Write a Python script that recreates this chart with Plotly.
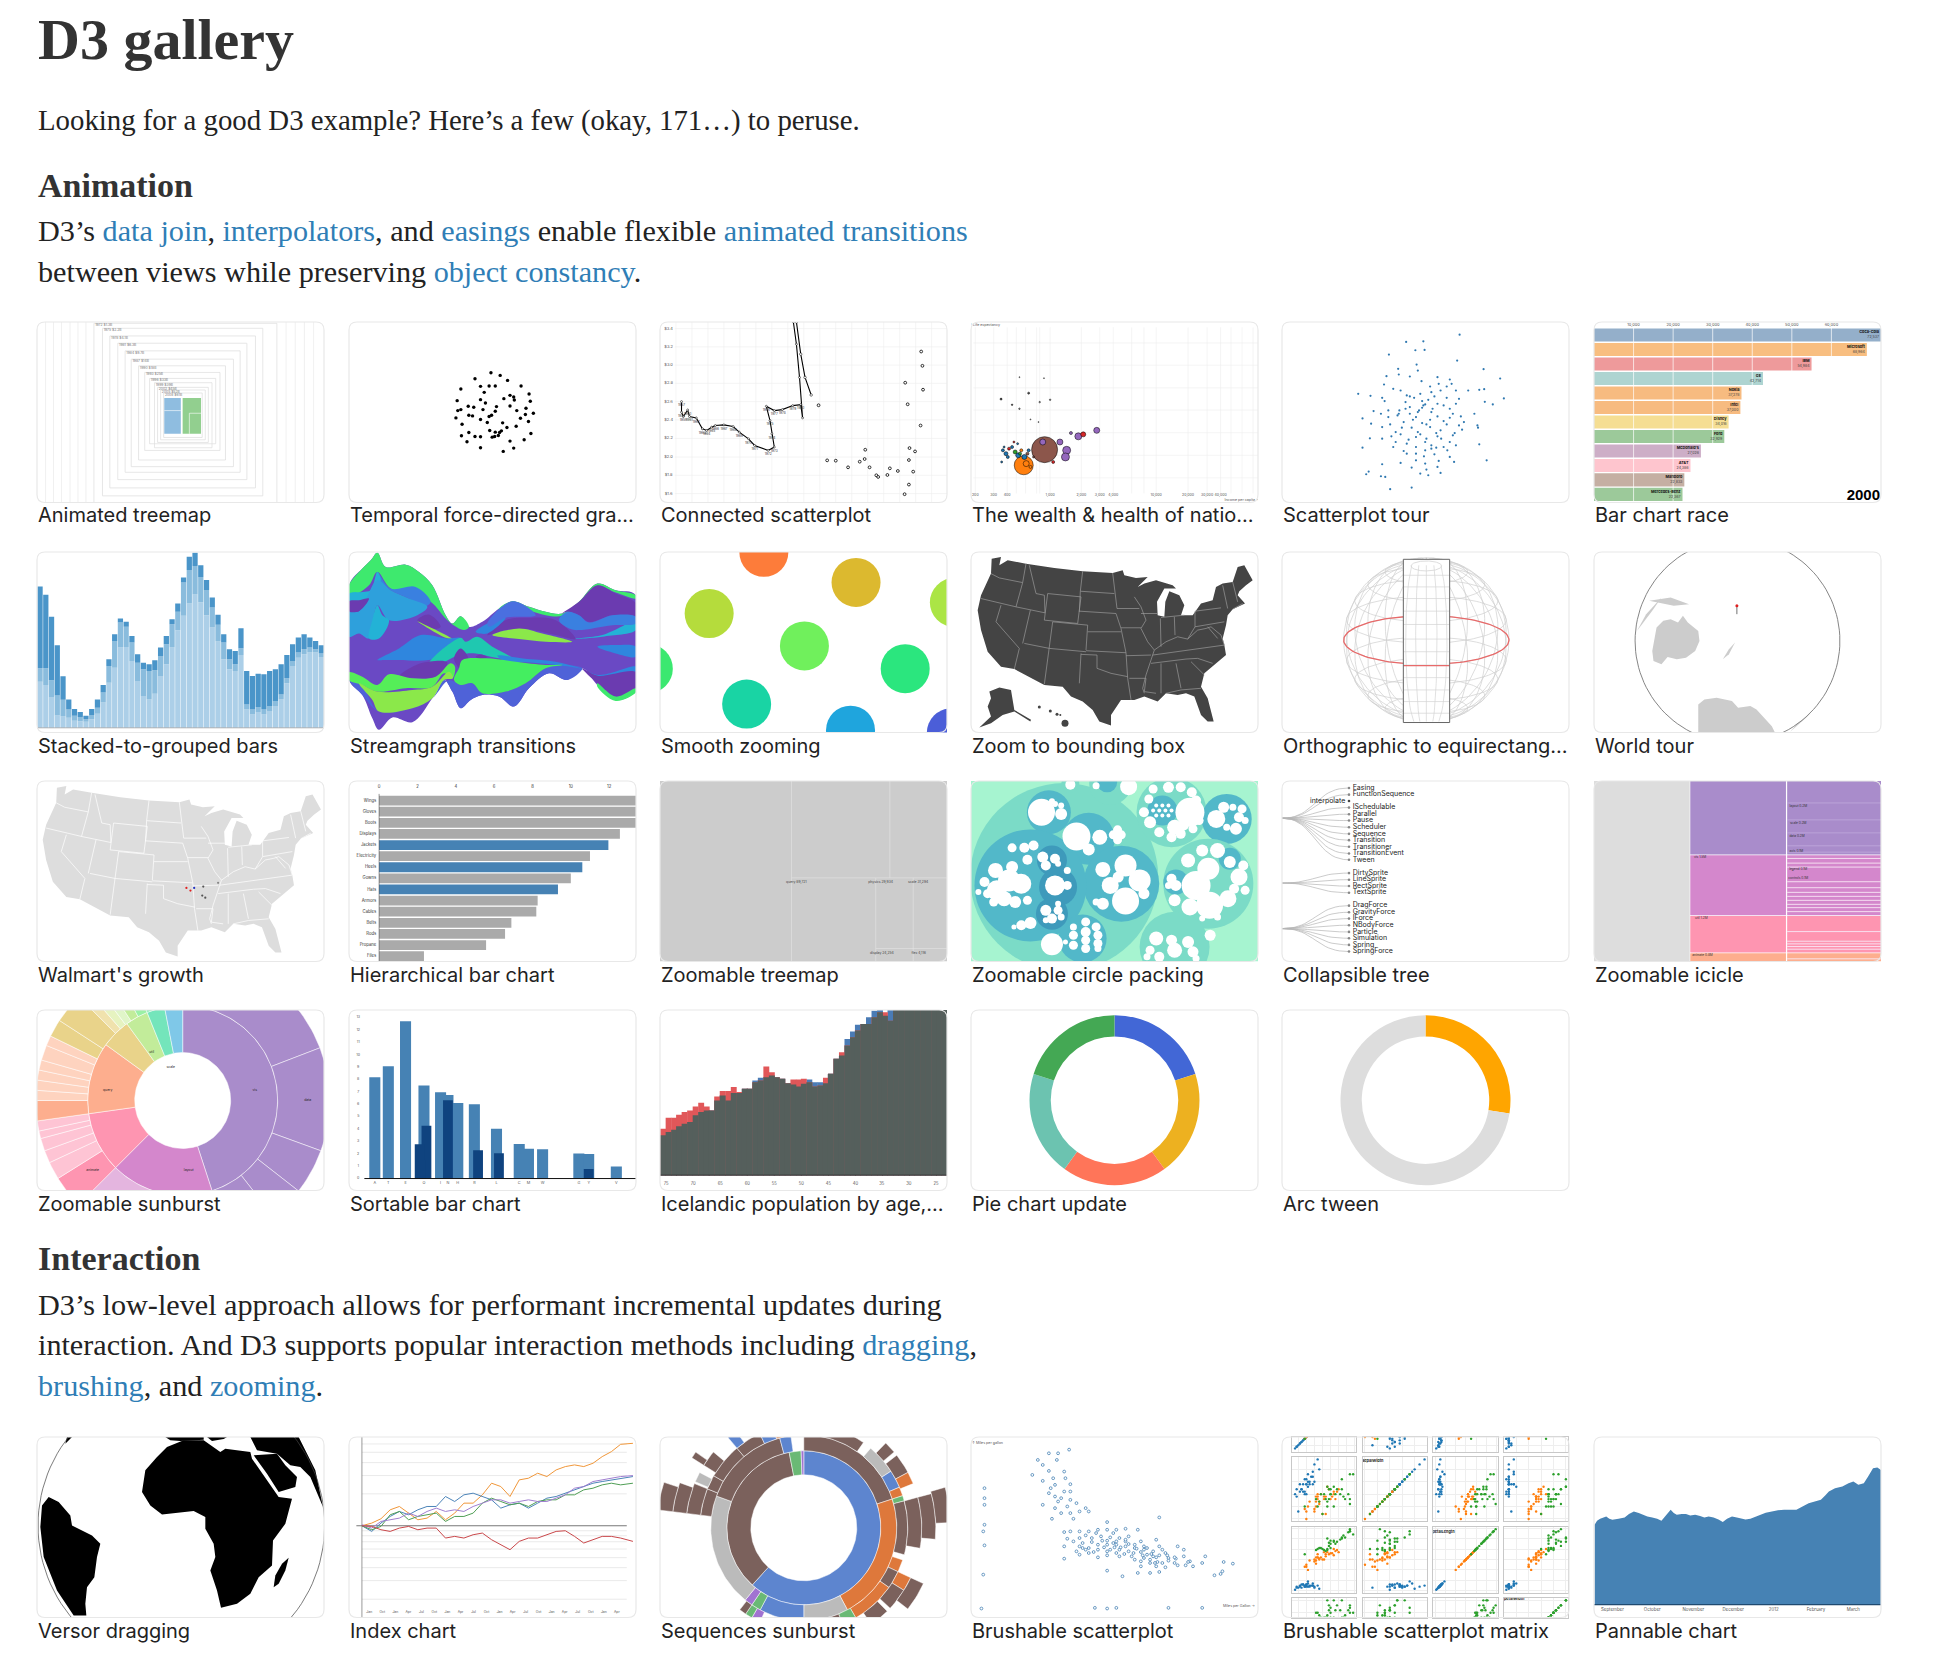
"""D3 gallery page rebuilt as one big Plotly figure: every thumbnail gets its own axes."""

import numpy as np
import plotly.graph_objects as go

W, H = 1940, 1660
SERIF = "Liberation Serif"
SANS = "Inter"
LINK = "#2f7eb6"

# CARD GRID (page pixels)
CARD_X = [37, 349, 660, 971, 1282, 1594]
CARD_Y = [322, 552, 781, 1010, 1437]
CARD_W, CARD_H = 287, 180.5

LABELS = [
    ["Animated treemap", "Temporal force-directed gra…", "Connected scatterplot", "The wealth & health of natio…", "Scatterplot tour", "Bar chart race"],
    ["Stacked-to-grouped bars", "Streamgraph transitions", "Smooth zooming", "Zoom to bounding box", "Orthographic to equirectang…", "World tour"],
    ["Walmart's growth", "Hierarchical bar chart", "Zoomable treemap", "Zoomable circle packing", "Collapsible tree", "Zoomable icicle"],
    ["Zoomable sunburst", "Sortable bar chart", "Icelandic population by age,…", "Pie chart update", "Arc tween", None],
    ["Versor dragging", "Index chart", "Sequences sunburst", "Brushable scatterplot", "Brushable scatterplot matrix", "Pannable chart"],
]

# ANIMATED TREEMAP
NEST_X0 = [121, 135, 147, 160, 172, 182, 194, 204, 212, 220, 225, 230, 235]
NEST_X1 = [420, 397, 385, 371, 360, 349, 336, 327, 320, 314, 308, 303, 298]
NEST_Y0 = [37, 52, 75, 97, 120, 145, 165, 185, 203, 216, 230, 238, 247]
NEST_Y1 = [577, 557, 533, 508, 486, 469, 449, 420, 400, 412, 396, 388, 381]
NEST_OUTER = [42, 55, 68, 82, 95, 108, 435, 450, 465, 480]
NEST_YEARS = ["1972 $1.3B", "1975 $2.2B", "1978 $4.1B", "1981 $6.3B", "1984 $9.7B", "1987 $14B", "1990 $18B", "1993 $25B", "1996 $33B", "1999 $39B", "2002 $45B", "2005 $52B", "2008 $61B"]

# TEMPORAL FORCE GRAPH
FORCE_X = [769, 784, 743, 796, 720, 752, 766, 776, 818, 758, 831, 800, 790, 806, 752, 714, 833, 807, 760, 732, 741, 800, 720, 715, 826, 778, 811, 756, 776, 838, 825, 712, 733, 739, 770, 766, 752, 817, 763, 722, 788, 830, 810, 795, 776, 767, 786, 752, 733, 721, 743, 771, 775, 781, 783, 800, 823, 730, 752, 789, 806, 834]
FORCE_Y = [186, 194, 204, 209, 235, 227, 226, 226, 226, 245, 250, 254, 264, 259, 267, 270, 272, 268, 277, 287, 290, 286, 297, 300, 293, 288, 300, 297, 302, 308, 312, 322, 314, 316, 314, 318, 327, 323, 336, 341, 337, 333, 347, 351, 365, 360, 361, 379, 366, 376, 378, 380, 378, 375, 366, 392, 388, 394, 412, 423, 413, 369]

# CONNECTED SCATTERPLOT
DRIVE_X = [1081, 1081, 1084, 1091, 1094, 1105, 1115, 1122, 1130, 1136, 1150, 1165, 1175, 1190, 1200, 1222, 1232, 1228, 1225, 1219, 1232, 1245, 1262, 1275, 1278, 1273, 1268, 1263]
DRIVE_Y = [273, 305, 318, 298, 318, 322, 355, 360, 350, 345, 343, 348, 365, 385, 405, 420, 410, 370, 330, 287, 300, 297, 285, 282, 322, 200, 100, 33]
DRIVE_YEARS = ["1957", "1958", "1959", "1960", "1961", "1962", "1963", "1964", "1965", "1966", "1967", "1968", "1969", "1970", "1971", "1972", "1973", "1974", "1975", "1976", "1977", "1978", "1979", "1980", "1981", "1982", "1983", "1984"]
DRIVE2_X = [1268, 1275, 1282, 1292]
DRIVE2_Y = [33, 130, 200, 253]
DRIVE_LOOSE_X = [1304, 1318, 1332, 1352, 1371, 1379, 1380, 1387, 1398, 1401, 1416, 1420, 1433, 1444, 1451, 1458, 1451, 1452, 1461, 1470, 1449, 1445, 1474, 1473, 1471]
DRIVE_LOOSE_Y = [284, 450, 451, 471, 454, 446, 418, 471, 495, 500, 494, 474, 482, 552, 523, 484, 449, 413, 423, 345, 281, 216, 237, 165, 122]
DRIVE_GRID_X = [1072, 1098, 1124, 1150, 1176, 1202, 1228, 1254, 1280, 1306, 1332, 1358, 1384, 1410, 1436, 1462, 1488]
DRIVE_GRID_Y = [53, 108, 163, 218, 273, 328, 384, 440, 495, 550]
DRIVE_TICKS = ["$3.4", "$3.2", "$3.0", "$2.8", "$2.6", "$2.4", "$2.2", "$2.0", "$1.8", "$1.6"]

# WEALTH & HEALTH
NATION_GRID_X = [25, 55, 77, 92, 107, 125, 130, 147, 198, 228, 250, 280, 300, 320, 372, 403, 425, 442, 460, 478]
NATION_GRID_Y = [97, 164, 232, 299, 367, 435, 503]
NATION_X = [138, 104, 223, 174, 172, 193, 163, 135, 201, 152, 181, 108, 115, 70, 75, 80, 85, 90, 95, 100, 105, 110, 72, 78, 88, 94, 98, 112, 120, 68, 97, 112, 130, 147, 67, 85, 128, 115, 97, 137]
NATION_Y = [418, 465, 360, 420, 440, 378, 395, 395, 372, 455, 368, 460, 470, 420, 430, 415, 410, 425, 435, 420, 440, 430, 410, 440, 395, 400, 430, 420, 440, 455, 295, 248, 275, 268, 266, 283, 335, 327, 200, 203]
NATION_SIZE = [26, 19, 6, 8, 8, 7, 6, 6, 5, 3, 3, 6, 3, 3, 4, 3, 3, 4, 5, 3, 5, 3, 2, 3, 2, 2, 3, 3, 2, 2, 1.5, 2, 1.5, 1.5, 2, 1.5, 1, 1, 1, 1]
NATION_COLOR = ["#8c564b", "#ff7f0e", "#9467bd", "#9467bd", "#9467bd", "#9467bd", "#9467bd", "#9467bd", "#d62728", "#d62728", "#9467bd", "#ff7f0e", "#ff7f0e", "#1f77b4", "#1f77b4", "#d62728", "#1f77b4", "#2ca02c", "#1f77b4", "#ff7f0e", "#1f77b4", "#8c564b", "#1f77b4", "#1f77b4", "#d62728", "#1f77b4", "#2ca02c", "#1f77b4", "#8c564b", "#1f77b4", "#999999", "#555555", "#999999", "#999999", "#444444", "#444444", "#bbbbbb", "#bbbbbb", "#bbbbbb", "#bbbbbb"]
NATION_TICKS = ["200", "300", "400", "1,000", "2,000", "3,000", "4,000", "10,000", "20,000", "30,000", "40,000"]
NATION_TICK_X = [25, 55, 77, 147, 198, 228, 250, 320, 372, 403, 425]

# SCATTERPLOT TOUR
TOUR_X = [816, 729, 757, 701, 744, 759, 812, 746, 748, 716, 855, 882, 735, 717, 693, 697, 754, 780, 800, 782, 803, 795, 768, 720, 708, 651, 671, 690, 694, 730, 752, 770, 785, 810, 830, 848, 856, 888, 857, 870, 815, 795, 760, 757, 728, 718, 676, 688, 700, 715, 735, 745, 770, 780, 800, 818, 840, 823, 845, 846, 658, 672, 690, 703, 725, 738, 755, 768, 785, 808, 820, 720, 705, 670, 690, 745, 762, 780, 800, 790, 810, 848, 658, 712, 730, 745, 760, 775, 800, 860, 690, 720, 745, 760, 780, 807, 668, 664, 688, 695, 752, 765, 785, 703, 738, 730, 770, 748, 735, 750, 765, 780, 800, 810, 742, 775, 728, 755, 790, 805, 768, 740, 722, 762, 795, 712, 752, 778, 733, 760, 786, 815, 745, 770, 708, 725, 758, 782, 796, 738, 762, 717, 748, 772, 790, 735, 805, 755, 700, 778]
TOUR_Y = [72, 94, 92, 132, 119, 118, 150, 162, 180, 175, 176, 204, 198, 192, 222, 197, 212, 200, 207, 220, 220, 228, 228, 240, 235, 250, 256, 262, 272, 255, 250, 245, 240, 240, 240, 238, 236, 264, 274, 282, 265, 262, 282, 285, 275, 300, 302, 310, 320, 315, 310, 320, 305, 318, 322, 318, 310, 335, 345, 352, 324, 340, 350, 342, 335, 352, 338, 350, 360, 368, 358, 372, 378, 384, 385, 380, 385, 378, 395, 410, 405, 402, 412, 395, 400, 410, 420, 432, 440, 450, 462, 458, 450, 460, 470, 455, 484, 492, 498, 500, 490, 495, 488, 537, 532, 430, 405, 365, 290, 300, 268, 280, 295, 280, 262, 258, 295, 292, 285, 310, 328, 328, 352, 342, 342, 365, 372, 368, 388, 395, 385, 345, 430, 415, 410, 422, 438, 452, 420, 472, 478, 310, 305, 295, 332, 258, 375, 272, 300, 412]

# BAR CHART RACE
RACE_NAMES = ["Coca-Cola", "Microsoft", "IBM", "GE", "Nokia", "Intel", "Disney", "Ford", "McDonald's", "AT&T", "Marlboro", "Mercedes-Benz"]
RACE_VALUES = [72537, 68964, 54984, 42714, 37278, 37000, 34016, 32929, 27026, 24386, 22833, 22367]
RACE_COLORS = ["#94afca", "#f8be80", "#ee9a9b", "#aed4d1", "#f7bb80", "#f7bb80", "#f5de93", "#9cc99a", "#cdaec7", "#fec5ce", "#c5afa3", "#9cc99a"]
RACE_TICKS = [10000, 20000, 30000, 40000, 50000, 60000]
RACE_YEAR = "2000"

# STACKED BARS
STACK_PALE = [138, 128, 92, 37, 34, 30, 21, 20, 18, 26, 42, 76, 135, 180, 240, 242, 200, 140, 95, 85, 102, 155, 190, 240, 292, 335, 372, 399, 376, 337, 300, 258, 205, 175, 170, 218, 55, 40, 47, 40, 50, 65, 85, 133, 185, 210, 220, 225, 225, 212]
STACK_MID = [40, 50, 50, 60, 50, 25, 15, 12, 8, 12, 18, 30, 50, 80, 75, 60, 55, 55, 80, 85, 70, 60, 60, 70, 55, 100, 100, 85, 75, 75, 60, 50, 50, 30, 20, 20, 15, 15, 15, 15, 15, 15, 15, 15, 15, 15, 15, 15, 10, 10]
STACK_DARK = [245, 220, 190, 150, 70, 30, 20, 15, 10, 18, 25, 22, 20, 20, 12, 15, 20, 25, 20, 20, 30, 25, 25, 15, 25, 15, 40, 40, 35, 30, 30, 30, 25, 30, 40, 60, 100, 100, 100, 105, 105, 95, 90, 70, 50, 45, 45, 30, 25, 25]
STACK_COLORS = ["#accfe8", "#8abcdd", "#4a95c9"]

# STREAMGRAPH, bands painted back to front
STREAM_COLORS = ["#6a49c4", "#4f62d8", "#3ee96e", "#3ee96e", "#3a80e0", "#23b2d6", "#2ea0dc", "#6b3bb0", "#23b2d6", "#6b3bb0", "#8be84a", "#2f86de", "#1fc8b0", "#6b3bb0", "#6b3bb0", "#6b3bb0", "#2f86de", "#23b2d6", "#6b3bb0", "#6b3bb0", "#3a80e0", "#8be84a", "#2f86de", "#2f86de", "#6b3bb0", "#3ee96e", "#44ee60", "#55ee58", "#8be84a", "#4a6fe0"]
STREAM_XS = [
    [0, 40, 65, 85, 110, 170, 210, 250, 290, 310, 335, 360, 400, 450, 490, 540, 590, 640, 690, 745, 800, 861, 861, 800, 745, 700, 655, 600, 540, 495, 450, 400, 365, 335, 310, 285, 250, 190, 130, 90, 70, 40, 0],
    [0, 40, 90, 190, 250, 285, 310, 335, 365, 400, 450, 495, 540, 600, 655, 700, 640, 590, 530, 470, 400, 370, 335, 300, 250, 190, 90, 40, 0],
    [0, 40, 65, 85, 110, 170, 210, 250, 290, 310, 335, 360, 345, 300, 245, 200, 125, 85, 60, 0],
    [450, 490, 540, 590, 640, 690, 745, 800, 861, 861, 800, 745, 690, 640, 590, 540, 490, 450],
    [85, 125, 200, 245, 225, 180, 125, 85],
    [0, 40, 65, 85, 95, 60, 30, 0],
    [0, 30, 85, 125, 180, 235, 205, 120, 85, 60, 30, 0],
    [0, 30, 60, 30, 0],
    [85, 100, 120, 90, 60, 70],
    [205, 240, 275, 255, 225],
    [205, 255, 310, 290],
    [85, 150, 215, 295, 335, 320, 240, 150, 105],
    [335, 350, 385, 430, 490, 440, 380, 330, 275, 240],
    [335, 358, 335, 315],
    [380, 395, 415, 395],
    [150, 215, 295, 262, 190],
    [445, 535, 620, 690, 750, 861, 861, 745, 690, 620, 530, 470],
    [670, 760, 861, 861, 760],
    [640, 690, 745, 800, 861, 861, 790, 720, 690, 655],
    [415, 470, 540, 620, 680, 620, 530, 470],
    [630, 655, 690, 720, 790, 861, 861, 790, 690, 665],
    [430, 510, 580, 670, 590, 510],
    [380, 415, 470, 415],
    [745, 800, 861, 861, 800],
    [700, 745, 861, 861, 800, 745],
    [745, 800, 861, 861, 800, 745],
    [340, 410, 500, 590, 640, 590, 530, 470, 400, 370, 335, 315, 330],
    [0, 40, 85, 120, 190, 260, 305, 318, 310, 285, 250, 170, 85, 40, 0],
    [30, 85, 190, 250, 300, 312, 285, 250, 190, 90, 70],
    [415, 490, 560, 470, 420],
]
STREAM_YS = [
    [100, 50, 25, 2, 45, 38, 60, 100, 190, 215, 193, 225, 210, 170, 148, 165, 180, 185, 150, 95, 115, 130, 415, 445, 400, 350, 385, 365, 410, 465, 435, 430, 445, 470, 420, 385, 440, 512, 498, 535, 500, 430, 385],
    [385, 430, 480, 470, 440, 385, 420, 470, 445, 430, 435, 465, 410, 365, 385, 350, 340, 350, 395, 420, 425, 395, 400, 385, 440, 470, 480, 400, 362],
    [100, 50, 25, 2, 45, 38, 60, 100, 190, 215, 193, 225, 235, 210, 150, 130, 110, 60, 100, 135],
    [170, 148, 165, 180, 185, 150, 95, 115, 130, 140, 122, 102, 155, 192, 190, 175, 155, 175],
    [60, 110, 105, 150, 165, 140, 115, 85],
    [125, 120, 115, 60, 85, 145, 148, 148],
    [178, 178, 85, 115, 140, 165, 190, 205, 160, 260, 245, 255],
    [148, 145, 140, 178, 178],
    [160, 190, 205, 260, 260, 205],
    [205, 188, 225, 232, 222],
    [208, 232, 262, 258],
    [325, 290, 250, 260, 260, 295, 325, 325, 325],
    [258, 270, 255, 285, 320, 318, 305, 310, 335, 335],
    [290, 322, 352, 320],
    [315, 308, 316, 322],
    [375, 335, 332, 375, 378],
    [312, 322, 330, 348, 370, 345, 358, 372, 350, 340, 332, 330],
    [262, 250, 210, 235, 255],
    [185, 150, 100, 125, 155, 195, 190, 210, 190, 180],
    [250, 205, 198, 205, 262, 250, 232, 235],
    [205, 180, 190, 212, 190, 195, 215, 220, 235, 232],
    [250, 230, 245, 270, 270, 262],
    [240, 215, 198, 245],
    [285, 280, 285, 315, 305],
    [350, 372, 362, 415, 435, 395],
    [395, 435, 410, 422, 448, 405],
    [325, 320, 330, 340, 340, 350, 395, 420, 425, 395, 400, 385, 350],
    [362, 375, 400, 368, 380, 375, 335, 345, 380, 365, 405, 410, 420, 400, 385],
    [395, 420, 415, 405, 360, 380, 385, 440, 470, 480, 445],
    [215, 148, 190, 198, 225],
]

# SMOOTH ZOOMING
ZOOM_X = [1215, 1365, 1126, 1525, 1281, 1445, 1027, 1187, 1356, 1520]
ZOOM_Y = [5, 95, 188, 155, 285, 353, 353, 459, 537, 545]
ZOOM_COLORS = ["#fd7c3a", "#dcb92f", "#b5dc3c", "#abe545", "#70f05c", "#2be67e", "#3be870", "#19d4a4", "#1fa5dd", "#4b5ed8"]

# US OUTLINE, used by two thumbnails
US_X = [62, 90, 85, 110, 165, 250, 335, 425, 455, 460, 495, 530, 500, 520, 555, 605, 615, 580, 558, 560, 580, 583, 595, 625, 640, 630, 665, 690, 725, 735, 755, 785, 800, 820, 845, 825, 805, 800, 822, 785, 770, 765, 755, 760, 765, 735, 700, 690, 710, 728, 710, 690, 670, 645, 620, 585, 560, 520, 490, 450, 420, 420, 385, 365, 335, 300, 275, 220, 130, 90, 50, 30, 20, 30, 60, 62]
US_Y = [20, 15, 40, 25, 35, 48, 58, 63, 55, 70, 78, 75, 105, 95, 85, 100, 110, 110, 150, 190, 195, 150, 118, 130, 160, 190, 190, 155, 145, 105, 95, 90, 45, 40, 85, 100, 118, 130, 155, 172, 190, 220, 260, 280, 310, 335, 365, 405, 440, 510, 510, 490, 435, 425, 430, 425, 450, 435, 445, 445, 490, 522, 510, 475, 450, 435, 405, 400, 352, 345, 300, 235, 175, 130, 65, 20]
US_LINES_X = [60, 85, 155, None, 165, 155, 135, None, 175, 195, 220, 222, None, 30, 135, 222, None, 90, 75, 145, 130, None, 178, 155, None, 220, 230, 330, 320, 220, None, 335, 328, 325, None, 328, 430, None, 325, 435, 450, 465, None, 425, 438, 505, None, 160, 235, 345, None, 245, 235, 220, None, 245, 350, 345, None, 350, 450, None, 345, 465, None, 330, 325, None, 330, 378, 378, 420, 470, None, 465, 470, 480, None, 465, 540, None, 475, 525, None, 490, 510, 525, 510, 530, 550, 525, 515, 520, None, 450, 510, None, 510, 560, None, 568, 570, None, 610, 612, None, 570, 640, None, 672, 672, 760, None, 672, 750, None, 755, 770, None, 785, 800, None, 785, 815, None, 550, 585, 620, 650, 672, None, 545, 650, 760, None, 540, 645, 680, 725, None, 660, 700, None, 570, 570, None, 615, 630, None, 585, 630, 690, None, 525, 520, 555, None, 650, 680, 705, 720, 750, 760, None, 710, 740]
US_LINES_Y = [65, 78, 92, None, 35, 92, 165, None, 40, 125, 130, 183, None, 140, 165, 183, None, 160, 210, 290, 352, None, 175, 275, None, 205, 125, 135, 215, 205, None, 58, 118, 180, None, 118, 125, None, 178, 185, 230, 303, None, 63, 170, 170, None, 275, 290, 300, None, 210, 290, 398, None, 210, 220, 295, None, 240, 240, None, 297, 303, None, 305, 395, None, 308, 310, 350, 365, 375, None, 303, 380, 445, None, 312, 310, None, 380, 380, None, 135, 165, 205, 230, 270, 295, 370, 410, 425, None, 228, 228, None, 185, 185, None, 200, 285, None, 195, 250, None, 197, 190, None, 178, 225, 210, None, 178, 168, None, 100, 170, None, 90, 150, None, 172, 155, None, 295, 270, 255, 262, 225, None, 310, 295, 280, None, 335, 322, 320, 335, None, 330, 370, None, 335, 425, None, 335, 410, None, 425, 415, 410, None, 380, 420, 425, None, 262, 235, 230, 225, 250, 280, None, 225, 260]
ALASKA_X = [55, 85, 120, 130, 180, 178, 130, 95, 60, 25, 60, 50, 60, 55]
ALASKA_Y = [420, 408, 415, 475, 505, 510, 480, 490, 515, 528, 495, 465, 440, 420]
HAWAII_X = [205, 238, 258, 268, 282]
HAWAII_Y = [466, 478, 488, 490, 515]
HAWAII_SIZE = [3, 3, 3, 2, 7]

# ORTHOGRAPHIC
GLOBE_LONS = [-165, -150, -135, -120, -105, -90, -75, -60, -45, -30, -15, 0, 15, 30, 45, 60, 75, 90, 105, 120, 135, 150, 165, 180]
GLOBE_LATS = [-75, -60, -45, -30, -15, 0, 15, 30, 45, 60, 75]
FLAT_DX = [-62, -32, 0, 32, 62]
FLAT_Y = [70, 105, 140, 178, 218, 262, 300, 340, 378, 415, 450, 485]

# WORLD TOUR
AUS_X = [1137, 1148, 1160, 1172, 1180, 1188, 1205, 1207, 1200, 1185, 1170, 1155, 1145, 1132, 1130, 1137]
AUS_Y = [950, 930, 925, 935, 915, 935, 960, 990, 1020, 1040, 1045, 1038, 1060, 1050, 1020, 950]
ANT_X = [1205, 1215, 1235, 1260, 1270, 1290, 1300, 1325, 1330, 1205, 1205]
ANT_Y = [1180, 1165, 1160, 1170, 1190, 1185, 1195, 1245, 1264, 1264, 1180]
NZ_X = [1265, 1255, 1245, 1255, 1265]
NZ_Y = [995, 1030, 1045, 1015, 995]
PNG_X = [1125, 1160, 1190, 1165, 1125]
PNG_Y = [870, 860, 880, 885, 870]
INDO_X = [1105, 1120, 1145, 1130, 1105]
INDO_Y = [960, 910, 860, 900, 960]
SAM_X = [1355, 1390, 1365, 1355]
SAM_Y = [1262, 1205, 1240, 1262]
TOUR_ARC_X = [1268, 1268]
TOUR_ARC_Y = [885, 910]

# WALMART
STORE_X = [446, 458, 469, 496, 493, 502, 540]
STORE_Y = [318, 326, 318, 314, 341, 347, 303]
STORE_COLOR = ["#e02020", "#e02020", "#2030c0", "#555555", "#555555", "#555555", "#888888"]

# HIERARCHICAL BARS
HIER_NAMES = ["Wings", "Gloves", "Boots", "Displays", "Jackets", "Electricity", "Heels", "Gowns", "Hats", "Armors", "Cables", "Belts", "Rods", "Propane", "Files"]
HIER_VALUES = [14.4, 14.0, 13.7, 12.56, 11.96, 11.0, 10.6, 10.0, 9.33, 8.27, 8.2, 6.9, 6.57, 5.58, 2.34]
HIER_HAS_KIDS = [0, 0, 0, 0, 1, 0, 1, 0, 1, 0, 0, 0, 0, 0, 0]
HIER_TICKS = [0, 2, 4, 6, 8, 10, 12]

# ZOOMABLE TREEMAP
TILE_X = [1260, 1260, None, 1420, 1420, None, 1260, 1513, None, 1397, 1397, None, 1458, 1458, None, 1397, 1513]
TILE_Y = [690, 1234, None, 690, 982, None, 982, 982, None, 982, 1234, None, 982, 1234, None, 1195, 1195]
TILE_NAMES = ["query 89,721", "physics 29,934", "scale 31,294", "display 24,254", "flex 4,116"]
TILE_NAME_X = [1268, 1405, 1466, 1407, 1467]
TILE_NAME_Y = [995, 995, 995, 1208, 1208]

# CIRCLE PACKING
PACK_BG = ["#7bdbc7", "#7bdbc7", "#7bdbc7", "#7bdbc7", "#52b8c9", "#7bdbc7", "#7bdbc7", "#52b8c9", "#52b8c9", "#52b8c9", "#52b8c9", "#52b8c9", "#3e9abb", "#3e9abb", "#3e9abb", "#52b8c9", "#52b8c9", "#52b8c9", "#52b8c9"]
PACK_BG_X = [170, 180, 245, 345, 435, 405, 350, 145, 210, 263, 115, 200, 150, 160, 150, 240, 330, 352, 440]
PACK_BG_Y = [320, 40, 40, 125, 145, 340, 530, 125, 205, 340, 345, 505, 270, 350, 430, 35, 120, 335, 265]
PACK_BG_D = [188, 18, 42, 70, 50, 90, 70, 44, 52, 76, 112, 48, 30, 38, 32, 20, 30, 25, 22]
LEAF_X = [180, 275, 222, 315, 340, 360, 378, 308, 385, 375, 390, 300, 310, 350, 365, 325, 345, 360, 380, 320, 330, 340, 315, 325, 335, 345, 320, 330, 340, 418, 450, 455, 430, 460, 445, 435, 465, 405, 372, 420, 395, 440, 455, 462, 385, 407, 350, 375, 437, 345, 352, 340, 420, 395, 447, 465, 133, 165, 155, 150, 165, 190, 210, 228, 257, 250, 263, 257, 270, 233, 293, 245, 270, 233, 258, 300, 222, 58, 85, 105, 85, 120, 110, 80, 60, 40, 100, 72, 45, 30, 55, 90, 110, 135, 155, 160, 140, 155, 175, 175, 140, 160, 150, 165, 160, 140, 100, 88, 115, 205, 222, 185, 205, 225, 185, 205, 225, 185, 205, 225, 172, 150, 320, 345, 372, 310, 325, 350, 380, 305, 385, 408]
LEAF_Y = [42, 48, 45, 55, 50, 50, 65, 85, 90, 125, 150, 125, 155, 170, 165, 185, 200, 190, 175, 105, 105, 105, 120, 120, 120, 120, 135, 135, 135, 145, 175, 140, 110, 115, 110, 170, 150, 295, 270, 240, 240, 275, 320, 285, 345, 405, 390, 410, 385, 325, 345, 345, 440, 445, 355, 360, 125, 130, 100, 92, 105, 198, 237, 200, 178, 193, 193, 208, 285, 297, 330, 345, 392, 400, 320, 370, 395, 300, 290, 232, 232, 225, 268, 330, 360, 335, 340, 385, 370, 365, 395, 395, 390, 260, 265, 280, 285, 345, 345, 300, 420, 420, 445, 440, 400, 450, 465, 470, 458, 455, 470, 470, 485, 495, 495, 510, 520, 525, 535, 535, 515, 522, 505, 510, 515, 540, 560, 540, 545, 560, 565, 495]
LEAF_D = [10, 17, 7, 9, 11, 10, 10, 9, 10, 29, 9, 10, 12, 15, 10, 10, 10, 10, 9, 4, 4, 4, 4, 4, 4, 4, 4, 4, 4, 18, 12, 10, 11, 9, 7, 7, 7, 22, 14, 15, 12, 12, 17, 10, 29, 27, 12, 17, 17, 10, 11, 7, 7, 6, 10, 9, 27, 12, 6, 6, 6, 28, 12, 15, 9, 9, 9, 9, 22, 15, 22, 17, 27, 12, 11, 11, 7, 15, 12, 10, 9, 10, 10, 22, 20, 10, 20, 15, 9, 6, 9, 12, 9, 11, 10, 6, 10, 20, 9, 7, 11, 9, 10, 7, 6, 6, 10, 5, 12, 9, 9, 7, 10, 9, 9, 9, 9, 9, 9, 7, 5, 22, 14, 11, 12, 9, 10, 15, 11, 7, 7, 11]

# COLLAPSIBLE TREE
TREE_NAMES = ["Easing", "FunctionSequence", "ISchedulable", "Parallel", "Pause", "Scheduler", "Sequence", "Transition", "Transitioner", "TransitionEvent", "Tween", "DirtySprite", "LineSprite", "RectSprite", "TextSprite", "DragForce", "GravityForce", "IForce", "NBodyForce", "Particle", "Simulation", "Spring", "SpringForce"]
TREE_Y = [52, 72, 111, 131, 150, 170, 190, 209, 229, 249, 268, 308, 328, 347, 367, 406, 426, 445, 465, 485, 504, 524, 544]
TREE_ROOT = [143, 143, 143, 143, 143, 143, 143, 143, 143, 143, 143, 338, 338, 338, 338, 475, 475, 475, 475, 475, 475, 475, 475]

# ICICLE
ICE_COLORS = ["#a98ccb", "#d487cc", "#fe95b1", "#fdae8e"]
ICE_TOP = [31, 254, 437, 549]
ICE_BOTTOM = [252, 435, 547, 574]
ICE_STRIPES = [97, 148, 187, 226, 245]
ICE_STRIPES_BRIGHT = [264, 278, 290, 334, 352, 366, 378, 390, 402, 412, 424, 484, 513, 521, 529, 537, 566]
ICE_NAMES = ["vis 1.5M", "util 1.2M", "animate 0.8M", "layout 0.2M", "scale 0.2M", "data 0.2M", "axis 0.1M", "legend 0.1M", "controls 0.1M"]
ICE_NAME_X = [1208, 1210, 1212, 1368, 1368, 1366, 1365, 1368, 1368]
ICE_NAME_Y = [261, 444, 556, 107, 157, 198, 242, 297, 322]

# ZOOMABLE SUNBURST (angles in degrees clockwise from the top)
SUN_INNER_END = [162, 225, 262, 306, 324, 338, 349, 360]
SUN_INNER_COLOR = ["#a98ccb", "#d487cc", "#fe95b1", "#fdae8e", "#e9d38a", "#c2ec9a", "#74e5bb", "#7fc8e8"]
SUN_OUTER_END = [69, 110, 128, 142, 162, 200, 225, 238, 245, 250, 255, 258, 262, 270, 274, 278, 282, 286, 292, 296, 303, 315, 319, 323, 327, 332, 338, 343, 349, 355, 360]
SUN_OUTER_COLOR = ["#a98ccb", "#a98ccb", "#a98ccb", "#a98ccb", "#a98ccb", "#d487cc", "#e4b5df", "#fe95b1", "#fec4d4", "#fec4d4", "#fec4d4", "#fec4d4", "#fec4d4", "#fdae8e", "#fed3bf", "#fed3bf", "#fed3bf", "#fed3bf", "#fed3bf", "#fed3bf", "#e9d38a", "#e9d38a", "#f0e2ad", "#e6f3c0", "#e0f5c8", "#c2ec9a", "#9bf0a5", "#86eab0", "#74e5bb", "#5fdcc0", "#7fc8e8"]
SUN_NAMES = ["vis", "data", "util", "scale", "layout", "query", "animate"]
SUN_NAME_X = [72, 125, -31, -12, 6, -75, -90]
SUN_NAME_Y = [10, 0, 48, 33, -70, 10, -70]

# SORTABLE BARS
LETTER_FREQ = [8.167, 9.056, 12.702, 7.507, 6.966, 6.749, 6.094, 5.987, 4.025, 2.782, 2.406, 2.36, 2.015, 1.974, 0.978]
LETTER_X = [580, 602, 630, 660, 687, 699, 715, 742, 778, 815, 830, 853, 912, 928, 973]
LETTER_NAMES = ["A", "T", "E", "O", "I", "N", "H", "R", "L", "C", "M", "W", "G", "Y", "V"]
OVERLAP_FREQ = [4.253, 2.758, 2.288, 6.327, 1.492, 2.04, 0.772]
OVERLAP_X = [664, 653, 748, 699, 655, 782, 928]
FREQ_TICKS = [0, 1, 2, 3, 4, 5, 6, 7, 8, 9, 10, 11, 12, 13]

# ICELAND
AGE_X = [1051, 1060, 1069, 1077, 1086, 1095, 1104, 1113, 1122, 1130, 1139, 1148, 1157, 1166, 1175, 1184, 1192, 1201, 1210, 1219, 1228, 1236, 1245, 1254, 1263, 1272, 1280, 1289, 1298, 1307, 1316, 1324, 1333, 1342, 1351, 1360, 1368, 1377, 1386, 1395, 1404, 1412, 1421, 1430, 1439, 1448, 1456, 1465, 1474, 1483, 1492, 1500, 1509]
POP_F = [140, 173, 173, 182, 190, 195, 207, 218, 207, 195, 237, 253, 253, 265, 250, 260, 260, 280, 285, 327, 310, 295, 290, 277, 288, 288, 290, 280, 267, 270, 293, 305, 350, 370, 390, 415, 435, 455, 455, 475, 490, 490, 465, 500, 500, 500, 500, 500, 500, 500, 500, 500, 500]
POP_M = [120, 130, 137, 147, 155, 160, 180, 190, 195, 195, 225, 240, 225, 247, 247, 260, 260, 285, 293, 295, 300, 295, 290, 277, 273, 267, 275, 288, 280, 280, 277, 305, 350, 360, 410, 432, 453, 455, 475, 495, 497, 480, 497, 500, 500, 500, 500, 500, 500, 500, 500, 500, 500]
AGE_TICK_X = [1056, 1100, 1144, 1188, 1232, 1276, 1320, 1364, 1407, 1451, 1495]
AGE_TICKS = ["75", "70", "65", "60", "55", "50", "45", "40", "35", "30", "25"]

# DONUTS
PIE_VALUES = [20, 20, 20, 20, 20]
PIE_COLORS = ["#4267d6", "#edb120", "#ff7559", "#6cc3b0", "#44a854"]
ARC_VALUES = [27.5, 72.5]
ARC_COLORS = ["#ffa500", "#dddddd"]

# VERSOR
AFRICA_X = [390, 440, 500, 550, 565, 640, 645, 690, 725, 765, 745, 708, 705, 665, 640, 600, 552, 540, 520, 535, 530, 505, 505, 470, 420, 375, 340, 315, 325, 360, 390]
AFRICA_Y = [30, 10, 10, 45, 35, 45, 65, 130, 180, 185, 260, 310, 385, 420, 470, 500, 512, 460, 400, 360, 320, 275, 240, 222, 228, 232, 205, 165, 100, 60, 30]
ARABIA_X = [650, 720, 745, 780, 775, 725, 690, 650]
ARABIA_Y = [55, 50, 85, 120, 150, 165, 110, 55]
ASIA_X = [640, 700, 785, 835, 858, 820, 790, 760, 720, 660, 640]
ASIA_Y = [0, 0, 0, 100, 210, 120, 90, 85, 50, 40, 0]
EUROPE_X = [385, 500, 500, 430, 400, 385]
EUROPE_Y = [0, 0, 8, 12, 10, 0]
IBERIA_X = [510, 570, 560, 525, 510]
IBERIA_Y = [0, 0, 6, 12, 0]
BRAZIL_X = [35, 65, 100, 105, 165, 190, 180, 172, 150, 145, 148, 110, 60, 20, 10, 15, 35]
BRAZIL_Y = [180, 195, 235, 265, 295, 320, 360, 420, 450, 500, 535, 535, 460, 360, 270, 205, 180]
ARCTIC_X = [85, 105, 90, 85]
ARCTIC_Y = [20, 0, 0, 20]
MADAGASCAR_X = [755, 745, 725, 710, 715, 735, 755]
MADAGASCAR_Y = [362, 400, 440, 450, 415, 380, 362]

# INDEX CHART
INDEX_X = [559, 575, 590, 605, 620, 635, 650, 665, 680, 695, 710, 725, 740, 755, 770, 785, 800, 815, 830, 845, 860, 875, 890, 905, 920, 935, 950, 965, 980, 1000]
INDEX_ORANGE = [283, 275, 262, 235, 225, 245, 265, 260, 240, 265, 245, 215, 215, 190, 155, 165, 195, 145, 140, 125, 135, 115, 105, 100, 105, 95, 75, 60, 38, 35]
INDEX_BLUE = [283, 300, 275, 255, 240, 250, 235, 225, 225, 195, 210, 190, 185, 195, 205, 230, 220, 215, 230, 215, 200, 195, 185, 175, 165, 155, 150, 145, 140, 135]
INDEX_GREEN = [283, 295, 285, 250, 240, 265, 255, 250, 245, 270, 255, 255, 245, 215, 200, 210, 220, 215, 225, 210, 205, 205, 190, 190, 175, 170, 160, 155, 160, 155]
INDEX_PURPLE = [280, 290, 270, 265, 260, 245, 255, 240, 230, 240, 235, 240, 225, 215, 205, 205, 215, 210, 205, 210, 210, 200, 190, 170, 165, 150, 145, 140, 135, 132]
INDEX_RED = [283, 285, 295, 300, 290, 285, 295, 290, 290, 320, 315, 320, 310, 305, 325, 340, 355, 330, 320, 320, 310, 300, 298, 315, 335, 325, 315, 315, 320, 330]
INDEX_GRID = [37, 62, 93, 132, 187, 298, 313, 331, 353, 379, 409, 448, 504]
INDEX_MONTHS = ["Jan", "Oct", "Jan", "Apr", "Jul", "Oct", "Jan", "Apr", "Jul", "Oct", "Jan", "Apr", "Jul", "Oct", "Jan", "Apr", "Jul", "Oct", "Jan", "Apr"]

# SEQUENCES SUNBURST: ring, start, end, colour key
SEQ_RADII = [53, 77, 93, 104, 118, 132, 147]
SEQ_RING = [0, 0, 0, 0, 1, 1, 1, 1, 1, 1, 1, 1, 1, 2, 2, 2, 2, 2, 2, 2, 2, 2, 2, 2, 2, 2, 2, 2, 2, 2, 2, 2, 2, 3, 3, 3, 3, 3, 3, 3, 3, 3, 3, 3, 4, 4, 4, 4, 5, 5]
SEQ_START = [0, 222, 349, 358, 0, 72, 152, 180, 208, 214, 219, 290, 345, 0, 40, 57, 67, 72, 75, 108, 115, 125, 150, 158, 205, 210, 214, 277, 292, 300, 320, 335, 343, 44, 52, 62, 75, 115, 122, 135, 277, 293, 302, 320, 75, 115, 277, 302, 74, 277]
SEQ_END = [222, 349, 358, 360, 72, 152, 180, 208, 214, 219, 290, 345, 352, 35, 57, 67, 72, 75, 105, 115, 125, 150, 158, 170, 210, 214, 218, 292, 300, 320, 335, 343, 347, 50, 62, 68, 100, 122, 133, 145, 292, 298, 310, 325, 95, 128, 290, 305, 88, 288]
SEQ_KEY = ["b", "br", "g", "p", "br", "o", "gr", "b", "g", "p", "gr", "br", "b", "br", "gr", "b", "o", "g", "br", "o", "br", "o", "g", "br", "p", "g", "br", "br", "br", "br", "br", "b", "o", "br", "br", "o", "br", "o", "br", "br", "br", "gr", "br", "b", "br", "br", "br", "br", "br", "br"]
SEQ_COLORS = {"b": "#5d85cf", "o": "#de783b", "g": "#6ab975", "br": "#7b615c", "gr": "#bbbbbb", "p": "#a173d1"}

# BRUSHABLE SCATTERPLOT
CARS_X = [178, 127, 145, 160, 158, 135, 118, 145, 170, 152, 172, 135, 155, 180, 148, 145, 170, 155, 180, 160, 135, 190, 155, 175, 205, 195, 210, 165, 180, 150, 185, 240, 325, 195, 210, 225, 240, 255, 270, 290, 170, 180, 175, 195, 215, 230, 245, 260, 275, 295, 320, 170, 195, 210, 225, 240, 255, 270, 285, 305, 325, 355, 190, 205, 225, 245, 260, 275, 295, 315, 335, 365, 170, 195, 225, 240, 260, 280, 300, 320, 340, 365, 400, 240, 295, 310, 330, 350, 375, 395, 430, 445, 295, 320, 380, 265, 290, 310, 325, 415, 425, 428, 40, 38, 40, 40, 40, 40, 38, 220, 240, 255, 340, 395, 35, 315, 285, 305, 270, 250, 200, 185, 180, 165, 240, 210, 255, 330, 215, 232, 250, 262, 275, 288, 300, 312, 325, 340, 352, 368, 200, 218, 235, 252, 268, 283, 298, 310, 322, 338, 355, 372, 205, 222, 240, 255, 270, 285, 300, 318, 335, 350]
CARS_Y = [54, 85, 65, 65, 85, 100, 130, 118, 120, 140, 140, 148, 160, 158, 170, 185, 180, 195, 180, 210, 220, 215, 230, 225, 230, 240, 240, 245, 245, 262, 262, 272, 258, 300, 300, 295, 295, 295, 292, 295, 302, 300, 322, 320, 320, 315, 318, 320, 315, 330, 325, 345, 345, 350, 340, 340, 340, 345, 350, 350, 345, 345, 360, 355, 355, 355, 355, 360, 362, 360, 365, 355, 382, 370, 378, 372, 375, 375, 380, 378, 380, 375, 375, 418, 390, 395, 395, 395, 390, 395, 392, 397, 405, 405, 405, 435, 425, 425, 422, 432, 428, 420, 342, 300, 280, 220, 200, 170, 430, 530, 532, 530, 530, 530, 532, 375, 385, 370, 330, 305, 335, 330, 205, 200, 360, 365, 365, 355, 332, 328, 335, 348, 338, 352, 345, 368, 372, 388, 382, 402, 350, 362, 348, 348, 368, 365, 372, 385, 392, 372, 402, 392, 312, 305, 328, 330, 325, 340, 355, 395, 408, 378]

# SCATTERPLOT MATRIX
IRIS_SEPAL_LEN = [5.1, 4.9, 4.7, 4.6, 5.0, 5.4, 4.6, 5.0, 4.4, 4.9, 5.4, 4.8, 4.3, 5.8, 5.7, 5.2, 4.5, 5.5, 5.1, 5.3, 5.0, 5.0, 5.2, 4.7, 4.8, 5.4, 5.5, 4.9, 4.4, 5.1, 7.0, 6.4, 6.9, 5.5, 6.5, 5.7, 6.3, 4.9, 6.6, 5.2, 5.0, 5.9, 6.0, 6.1, 5.6, 6.7, 5.8, 6.2, 5.6, 5.5, 5.8, 5.0, 5.6, 5.7, 5.7, 6.2, 5.1, 6.1, 6.8, 6.7, 6.3, 5.8, 7.1, 6.5, 7.6, 4.9, 7.3, 6.7, 7.2, 6.5, 6.8, 5.7, 7.7, 6.0, 6.9, 5.6, 7.7, 6.3, 7.9, 6.4, 6.4, 6.5, 7.7, 6.2, 6.1, 7.2, 7.4, 6.3, 6.7, 5.9]
IRIS_SEPAL_WID = [3.5, 3.0, 3.2, 3.1, 3.6, 3.9, 3.4, 3.4, 2.9, 3.1, 3.7, 3.4, 3.0, 4.0, 4.4, 3.5, 2.3, 4.2, 3.8, 3.7, 3.0, 3.4, 3.4, 3.2, 3.1, 3.4, 3.5, 3.6, 3.2, 3.3, 3.2, 3.2, 3.1, 2.3, 2.8, 2.8, 3.3, 2.4, 2.9, 2.7, 2.0, 3.0, 2.2, 2.9, 2.9, 3.1, 2.7, 2.2, 2.5, 2.4, 2.6, 2.3, 2.7, 3.0, 2.9, 2.9, 2.5, 2.8, 2.8, 3.0, 3.3, 2.7, 3.0, 3.0, 3.0, 2.5, 2.9, 2.5, 3.6, 3.2, 3.0, 2.5, 3.8, 2.2, 3.2, 2.8, 2.8, 2.7, 3.8, 2.8, 3.2, 3.0, 2.6, 2.8, 3.0, 3.2, 2.8, 2.5, 3.3, 3.0]
IRIS_PETAL_LEN = [1.4, 1.4, 1.3, 1.5, 1.4, 1.7, 1.4, 1.5, 1.4, 1.5, 1.5, 1.6, 1.1, 1.2, 1.5, 1.5, 1.3, 1.4, 1.9, 1.5, 1.6, 1.6, 1.4, 1.6, 1.6, 1.5, 1.3, 1.4, 1.3, 1.7, 4.7, 4.5, 4.9, 4.0, 4.6, 4.5, 4.7, 3.3, 4.6, 3.9, 3.5, 4.2, 4.0, 4.7, 3.6, 4.4, 4.1, 4.5, 3.9, 3.8, 4.0, 3.3, 4.2, 4.2, 4.2, 4.3, 3.0, 4.0, 4.8, 5.0, 6.0, 5.1, 5.9, 5.8, 6.6, 4.5, 6.3, 5.8, 6.1, 5.1, 5.5, 5.0, 6.7, 5.0, 5.7, 4.9, 6.7, 4.9, 6.4, 5.6, 5.3, 5.5, 6.9, 4.8, 4.9, 6.0, 6.1, 5.0, 5.7, 5.1]
IRIS_PETAL_WID = [0.2, 0.2, 0.2, 0.2, 0.2, 0.4, 0.3, 0.2, 0.2, 0.1, 0.2, 0.2, 0.1, 0.2, 0.4, 0.2, 0.3, 0.2, 0.4, 0.2, 0.2, 0.4, 0.2, 0.2, 0.2, 0.4, 0.2, 0.1, 0.2, 0.5, 1.4, 1.5, 1.5, 1.3, 1.5, 1.3, 1.6, 1.0, 1.3, 1.4, 1.0, 1.5, 1.0, 1.4, 1.3, 1.4, 1.0, 1.5, 1.1, 1.1, 1.2, 1.0, 1.3, 1.2, 1.3, 1.3, 1.1, 1.3, 1.4, 1.7, 2.5, 1.9, 2.1, 2.2, 2.1, 1.7, 1.8, 1.8, 2.5, 2.0, 2.1, 2.0, 2.2, 1.5, 2.3, 2.0, 2.0, 1.8, 2.0, 2.1, 2.3, 1.8, 2.3, 1.8, 1.8, 1.8, 1.9, 1.9, 2.5, 1.8]
IRIS_SPECIES = ["#1f77b4"] * 30 + ["#ff7f0e"] * 30 + ["#2ca02c"] * 30
SPLOM_NAMES = ["sepalLength", "sepalWidth", "petalLength", "petalWidth"]
SPLOM_RANGE = [(4.1, 8.1), (1.9, 4.5), (0.8, 7.1), (0.0, 2.6)]
SPLOM_DTICK = [0.5, 0.5, 1, 0.5]
SPLOM_COL = [(543, 648), (658, 763), (773, 878), (888, 993)]
SPLOM_ROW = [(-134, 60), (76, 270), (287, 485), (500, 694)]

# PANNABLE CHART
PAN_X = [1036, 1040, 1045, 1050, 1055, 1060, 1065, 1075, 1085, 1092, 1100, 1108, 1115, 1122, 1130, 1138, 1145, 1152, 1160, 1165, 1170, 1178, 1185, 1192, 1200, 1208, 1215, 1222, 1230, 1238, 1245, 1252, 1260, 1268, 1275, 1282, 1290, 1298, 1305, 1315, 1325, 1335, 1345, 1355, 1365, 1375, 1385, 1395, 1405, 1412, 1418, 1428, 1440, 1450, 1458, 1466, 1475, 1482, 1490, 1497, 1503]
PAN_VALUES = [240, 252, 258, 262, 265, 258, 255, 258, 262, 272, 280, 275, 270, 265, 262, 258, 252, 268, 285, 275, 270, 272, 272, 268, 270, 266, 262, 265, 262, 256, 248, 258, 265, 262, 260, 256, 258, 264, 270, 276, 280, 284, 285, 286, 285, 295, 305, 310, 315, 328, 340, 350, 355, 365, 370, 360, 365, 385, 410, 412, 405]
PAN_TICKS = ["September", "October", "November", "December", "2012", "February", "March"]
PAN_TICK_X = [1065, 1130, 1197, 1262, 1328, 1397, 1458]


fig = go.Figure()
annotations = []
shapes = []
n_axes = 0


def px_x(x):
    return x / W


def px_y(y):
    return 1 - y / H


def page_text(x, y, text, size, family=SERIF, color="#222222"):
    annotations.append(dict(
        x=px_x(x), y=px_y(y), xref="paper", yref="paper", text=text, showarrow=False,
        xanchor="left", yanchor="middle", align="left",
        font=dict(size=size, family=family, color=color),
    ))


def new_axes(left, right, top, bottom, xrange, yrange, **extra):
    # one pair of hidden axes per thumbnail, placed by page pixels
    global n_axes
    n_axes += 1
    suffix = "" if n_axes == 1 else str(n_axes)
    axis = dict(visible=False, showgrid=False, zeroline=False, fixedrange=True)
    axis.update(extra)
    fig.layout["xaxis" + suffix] = dict(domain=[px_x(left), px_x(right)], range=xrange, anchor="y" + suffix, **axis)
    fig.layout["yaxis" + suffix] = dict(domain=[px_y(bottom), px_y(top)], range=yrange, anchor="x" + suffix, **axis)
    return dict(xaxis="x" + suffix, yaxis="y" + suffix, hoverinfo="skip", showlegend=False)


def card_axes(row, col, xrange, yrange):
    left, top = CARD_X[col], CARD_Y[row]
    return new_axes(left, left + CARD_W, top, top + CARD_H, xrange, yrange)


def poly(ax, xs, ys, color, edge=None, width=0.5, shape="linear"):
    fig.add_trace(go.Scatter(x=xs, y=ys, mode="lines", fill="toself", fillcolor=color,
                             line=dict(color=edge or color, width=width if edge else 0, shape=shape), **ax))


def lines(ax, xs, ys, color, width=0.6, shape="linear"):
    fig.add_trace(go.Scatter(x=xs, y=ys, mode="lines", line=dict(color=color, width=width, shape=shape), **ax))


def dots(ax, xs, ys, color, size=3, edge=None, edge_width=0.5):
    fig.add_trace(go.Scatter(x=xs, y=ys, mode="markers", marker=dict(
        color=color, size=size, opacity=1, line=dict(color=edge or "rgba(0,0,0,0)", width=edge_width if edge else 0)), **ax))


def tiny(ax, xs, ys, labels, size=4.5, color="#555555", position="middle center", family=SANS):
    fig.add_trace(go.Scatter(x=xs, y=ys, mode="text", text=labels, textposition=position,
                             textfont=dict(size=size, color=color, family=family), **ax))


def box(ax, x0, x1, y0, y1, color):
    poly(ax, [x0, x1, x1, x0, x0], [y0, y0, y1, y1, y0], color)


def wedge(ax, a0, a1, r0, r1, color, edge="#ffffff"):
    steps = max(3, int(abs(a1 - a0) / 2) + 2)
    angles = np.radians(np.linspace(a0, a1, steps))
    xs = np.r_[r1 * np.sin(angles), r0 * np.sin(angles[::-1])]
    ys = np.r_[r1 * np.cos(angles), r0 * np.cos(angles[::-1])]
    poly(ax, np.r_[xs, xs[0]], np.r_[ys, ys[0]], color, edge=edge, width=0.5)


def grid_lines(ax, xs, ys, x0, x1, y0, y1, color="#eeeeee", width=0.6):
    vx, vy = [], []
    for x in xs:
        vx += [x, x, None]
        vy += [y0, y1, None]
    for y in ys:
        vx += [x0, x1, None]
        vy += [y, y, None]
    lines(ax, vx, vy, color, width)


# PAGE TEXT
page_text(35.5, 40, "<b>D3 gallery</b>", 58, color="#333333")
page_text(35.5, 120, "Looking for a good D3 example? Here’s a few (okay, 171…) to peruse.", 28.8)
page_text(35.5, 185, "<b>Animation</b>", 34, color="#333333")


def link(text):
    return f'<span style="color:{LINK}">{text}</span>'


page_text(35.5, 231, f"D3’s {link('data join')}, {link('interpolators')}, and {link('easings')} enable flexible {link('animated transitions')}", 30.2)
page_text(35.5, 272, f"between views while preserving {link('object constancy')}.", 30.2)
page_text(35.5, 1258, "<b>Interaction</b>", 34, color="#333333")
page_text(35.5, 1305, "D3’s low-level approach allows for performant incremental updates during", 30.2)
page_text(35.5, 1345, f"interaction. And D3 supports popular interaction methods including {link('dragging')},", 30.2)
page_text(35.5, 1386, f"{link('brushing')}, and {link('zooming')}.", 30.2)

# CARD FRAMES AND CAPTIONS
for r, row_labels in enumerate(LABELS):
    for c, label in enumerate(row_labels):
        if label is None:
            continue
        page_text(CARD_X[c] - 1.5, CARD_Y[r] + CARD_H + 13, label, 20, family=SANS)
        x0, x1 = px_x(CARD_X[c]), px_x(CARD_X[c] + CARD_W)
        y0, y1 = px_y(CARD_Y[r]), px_y(CARD_Y[r] + CARD_H)
        rx, ry = 8 / W, 8 / H
        path = (f"M{x0 + rx},{y0} L{x1 - rx},{y0} Q{x1},{y0} {x1},{y0 - ry} L{x1},{y1 + ry} Q{x1},{y1} {x1 - rx},{y1} "
                f"L{x0 + rx},{y1} Q{x0},{y1} {x0},{y1 + ry} L{x0},{y0 - ry} Q{x0},{y0} {x0 + rx},{y0} Z")
        shapes.append(dict(type="path", path=path, xref="paper", yref="paper", line=dict(color="#e8e8e8", width=1.2), layer="above"))

# ROW 1
ax = card_axes(0, 0, [28, 497], [577, 33])
grid_lines(ax, NEST_OUTER, [], 28, 497, 33, 577, "#e6e6e6")
nx, ny = [], []
for a, b, c, d in zip(NEST_X0, NEST_X1, NEST_Y0, NEST_Y1):
    nx += [a, b, b, a, a, None]
    ny += [c, c, d, d, c, None]
lines(ax, nx, ny, "#dddddd", 0.7)
box(ax, 236, 263, 262, 370, "#8fbde0")
box(ax, 266, 296, 262, 370, "#92cf8f")
lines(ax, [263, 236, None, 277, 296, None, 277, 277], [300, 300, None, 308, 308, None, 308, 370], "#ffffff", 0.6)
tiny(ax, [v + 2 for v in NEST_X0], [v + 6 for v in NEST_Y0], NEST_YEARS, 3.4, "#777777", "middle right")

ax = card_axes(0, 1, [538, 1005], [577, 33])
dots(ax, FORCE_X, FORCE_Y, "#000000", 3.4)

ax = card_axes(0, 2, [1046, 1513], [577, 33])
grid_lines(ax, DRIVE_GRID_X, DRIVE_GRID_Y, 1070, 1513, 33, 577)
lines(ax, DRIVE_X, DRIVE_Y, "#000000", 1.1)
lines(ax, DRIVE2_X, DRIVE2_Y, "#000000", 1.1)
dots(ax, DRIVE_X, DRIVE_Y, "#ffffff", 2, "#000000", 0.5)
dots(ax, DRIVE2_X, DRIVE2_Y, "#ffffff", 2.5, "#000000", 0.5)
dots(ax, DRIVE_LOOSE_X, DRIVE_LOOSE_Y, "#ffffff", 2.8, "#000000", 0.8)
tiny(ax, [1060] * len(DRIVE_GRID_Y), DRIVE_GRID_Y, DRIVE_TICKS, 4)
tiny(ax, DRIVE_X[:24], [v + 12 for v in DRIVE_Y[:24]], DRIVE_YEARS[:24], 3.2, "#333333")

ax = card_axes(0, 3, [18, 486], [577, 34])
grid_lines(ax, NATION_GRID_X, NATION_GRID_Y, 22, 486, 50, 550)
dots(ax, NATION_X, NATION_Y, NATION_COLOR, NATION_SIZE, "#000000", 0.5)
tiny(ax, NATION_TICK_X, [556] * len(NATION_TICKS), NATION_TICKS, 3.6)
tiny(ax, [40], [43], ["↑ Life expectancy"], 3.6)
tiny(ax, [460], [570], ["Income per capita →"], 3.6)

ax = card_axes(0, 4, [527, 994], [577, 34])
dots(ax, TOUR_X, TOUR_Y, "#2f78b0", 2.2)

ax = card_axes(0, 5, [0, 72537], [11.56, -0.894])
fig.add_trace(go.Bar(x=RACE_VALUES, y=list(range(len(RACE_VALUES))), orientation="h", width=0.9,
                     marker=dict(color=RACE_COLORS, line=dict(width=0)), **ax))
grid_lines(ax, RACE_TICKS, [], 0, 72537, -0.5, 11.5, "#ffffff", 0.7)
tiny(ax, RACE_TICKS, [-0.7] * len(RACE_TICKS), [f"{t:,}" for t in RACE_TICKS], 4)
tiny(ax, [v - 500 for v in RACE_VALUES], [i - 0.17 for i in range(12)], [f"<b>{s}</b>" for s in RACE_NAMES], 3.8, "#111111", "middle left")
tiny(ax, [v - 500 for v in RACE_VALUES], [i + 0.18 for i in range(12)], [f"{v:,}" for v in RACE_VALUES], 3.6, "#444444", "middle left")
tiny(ax, [72300], [11.1], [f"<b>{RACE_YEAR}</b>"], 15, "#000000", "middle left", "Liberation Sans")

# ROW 2
ax = card_axes(1, 0, [28, 497], [-14, 526])
bar_x = [33 + 9.38 * i for i in range(len(STACK_PALE))]
base = [0] * len(STACK_PALE)
for layer, colour in zip([STACK_PALE, STACK_MID, STACK_DARK], STACK_COLORS):
    fig.add_trace(go.Bar(x=bar_x, y=layer, base=base, width=8.6, marker=dict(color=colour, line=dict(width=0)), **ax))
    base = [p + q for p, q in zip(base, layer)]
lines(ax, [28, 497], [0, 0], "#9a9a9a", 0.7)

ax = card_axes(1, 1, [0, 861], [543, 0])
for colour, xs, ys in zip(STREAM_COLORS, STREAM_XS, STREAM_YS):
    poly(ax, xs + xs[:1], ys + ys[:1], colour, shape="spline")

ax = card_axes(1, 2, [1046, 1513], [544, 4])
dots(ax, ZOOM_X, ZOOM_Y, ZOOM_COLORS, 49)

ax = card_axes(1, 3, [0, 861], [543, 0])
poly(ax, US_X, US_Y, "#444444")
poly(ax, ALASKA_X, ALASKA_Y, "#444444")
dots(ax, HAWAII_X, HAWAII_Y, "#444444", HAWAII_SIZE)
lines(ax, US_LINES_X, US_LINES_Y, "#9a9a9a", 0.7)

# sphere projected in the crop's pixels
ax = card_axes(1, 4, [0, 861], [543, 0])
cx, cy, radius = 433, 265, 248
tilt = np.radians(17.2)
t = np.radians(np.linspace(0, 360, 121))
mx, my = [], []
for lon in np.radians(GLOBE_LONS):
    lat = np.radians(np.linspace(-90, 90, 61))
    mx += list(cx + radius * np.cos(lat) * np.sin(lon)) + [None]
    my += list(cy - radius * (np.sin(lat) * np.cos(tilt) - np.cos(lat) * np.cos(lon) * np.sin(tilt))) + [None]
for lat0 in np.radians(GLOBE_LATS):
    mx += list(cx + radius * np.cos(lat0) * np.sin(t)) + [None]
    my += list(cy - radius * (np.sin(lat0) * np.cos(tilt) - np.cos(lat0) * np.cos(t) * np.sin(tilt))) + [None]
lines(ax, mx, my, "#cfcfcf", 0.7)
lines(ax, list(cx + radius * np.sin(t)), list(cy - radius * np.sin(tilt) * np.cos(t)), "#e86a6a", 1.3)
box(ax, 364, 503, 22, 513, "#ffffff")
fx, fy = [], []
for dx in FLAT_DX:
    yy = np.linspace(40, 510, 30)
    fx += list(cx + dx * np.sqrt(np.clip(1 - ((yy - 265) / 272) ** 2, 0, 1)) ** 0.6) + [None]
    fy += list(yy) + [None]
lines(ax, fx, fy, "#d4d4d4", 0.7)
grid_lines(ax, [], FLAT_Y, 364, 503, 22, 513, "#d4d4d4", 0.7)
lines(ax, list(cx + 46 * np.sin(t)), list(42 + 15 * np.cos(t)), "#d4d4d4", 0.8)
lines(ax, [364, 503], [342, 342], "#e86a6a", 1.3)
lines(ax, [364, 503, 503, 364, 364], [22, 22, 513, 513, 22], "#666666", 1)

ax = card_axes(1, 5, [1035, 1503], [1264, 724])
for land_x, land_y in [(AUS_X, AUS_Y), (ANT_X, ANT_Y), (NZ_X, NZ_Y), (PNG_X, PNG_Y), (INDO_X, INDO_Y), (SAM_X, SAM_Y)]:
    poly(ax, land_x, land_y, "#cccccc")
lines(ax, list(1269 + 167 * np.sin(t)), list(990 + 306 * np.cos(t)), "#777777", 0.9)
lines(ax, TOUR_ARC_X, TOUR_ARC_Y, "#333333", 0.7)
dots(ax, TOUR_ARC_X[:1], TOUR_ARC_Y[:1], "#e02020", 3)

# ROW 3
ax = card_axes(2, 0, [3, 854], [537, 0])
poly(ax, US_X, US_Y, "#dddddd")
lines(ax, US_LINES_X, US_LINES_Y, "#ffffff", 0.7)
dots(ax, STORE_X, STORE_Y, STORE_COLOR, 2.2)

ax = card_axes(2, 1, [-1.57, 13.4], [14.48, -1.76])
fig.add_trace(go.Bar(x=HIER_VALUES, y=list(range(len(HIER_VALUES))), orientation="h", width=0.88,
                     marker=dict(color=["#4682b4" if k else "#aaaaaa" for k in HIER_HAS_KIDS], line=dict(width=0)), **ax))
lines(ax, [0, 0], [-0.6, 14.48], "#333333", 0.5)
tiny(ax, [-0.15] * len(HIER_NAMES), list(range(len(HIER_NAMES))), HIER_NAMES, 4.2, "#333333", "middle left")
tiny(ax, HIER_TICKS, [-1.25] * len(HIER_TICKS), HIER_TICKS, 4.2, "#333333")

ax = card_axes(2, 2, [1046, 1513], [1234, 690])
box(ax, 1046, 1513, 690, 1234, "#cccccc")
lines(ax, TILE_X, TILE_Y, "#e4e4e4", 0.6)
tiny(ax, TILE_NAME_X, TILE_NAME_Y, TILE_NAMES, 3.4, "#444444")

ax = card_axes(2, 3, [18, 486], [574, 31])
box(ax, 18, 486, 31, 574, "#a6f4d0")
dots(ax, PACK_BG_X, PACK_BG_Y, PACK_BG, PACK_BG_D)
dots(ax, LEAF_X, LEAF_Y, "#ffffff", LEAF_D)

ax = card_axes(2, 4, [527, 994], [574, 31])
for y_leaf, y_root in zip(TREE_Y, TREE_ROOT):
    s = np.linspace(0, 1, 21)
    bez_x = 527 * (1 - s) ** 3 + 3 * 581 * (1 - s) ** 2 * s + 3 * 581 * (1 - s) * s ** 2 + 635 * s ** 3
    bez_y = y_root * (1 - s) ** 3 + 3 * y_root * (1 - s) ** 2 * s + 3 * y_leaf * (1 - s) * s ** 2 + y_leaf * s ** 3
    lines(ax, list(bez_x), list(bez_y), "#b5b5b5", 0.7)
dots(ax, [636] * len(TREE_Y), TREE_Y, "#888888", 2.6)
dots(ax, [636], [91], "#444444", 2.6)
tiny(ax, [642] * len(TREE_Y), TREE_Y, TREE_NAMES, 7, "#222222", "middle right")
tiny(ax, [630], [91], ["interpolate"], 7, "#222222", "middle left")

ax = card_axes(2, 5, [1035, 1503], [574, 31])
box(ax, 1035, 1191, 31, 574, "#dddddd")
for colour, y0, y1 in zip(ICE_COLORS, ICE_TOP, ICE_BOTTOM):
    box(ax, 1192, 1348, y0, y1, colour)
    box(ax, 1350, 1503, y0, y1, colour)
grid_lines(ax, [], ICE_STRIPES, 1350, 1503, 31, 574, "#c4aee0", 0.7)
grid_lines(ax, [], ICE_STRIPES_BRIGHT, 1350, 1503, 31, 574, "#f8e6f5", 0.9)
tiny(ax, ICE_NAME_X, ICE_NAME_Y, ICE_NAMES, 3.2, "#333333")

# ROW 4
ax = card_axes(3, 0, [-145.7, 141.3], [-90, 90.5])
start = 0
for end, colour in zip(SUN_INNER_END, SUN_INNER_COLOR):
    wedge(ax, start, end, 48, 95, colour)
    start = end
start = 0
for end, colour in zip(SUN_OUTER_END, SUN_OUTER_COLOR):
    wedge(ax, start, end, 95, 147, colour)
    start = end
tiny(ax, SUN_NAME_X, SUN_NAME_Y, SUN_NAMES, 3.4, "#222222")

ax = card_axes(3, 1, [538, 1005], [-0.965, 13.6])
fig.add_trace(go.Bar(x=LETTER_X, y=LETTER_FREQ, width=18, marker=dict(color="#4682b4", line=dict(width=0)), **ax))
fig.add_trace(go.Bar(x=OVERLAP_X, y=OVERLAP_FREQ, width=16, marker=dict(color="#0f437f", line=dict(width=0)), **ax))
lines(ax, [563, 1005], [0, 0], "#111111", 1)
tiny(ax, [553] * len(FREQ_TICKS), FREQ_TICKS, [f"{v}" for v in FREQ_TICKS], 3.6)
tiny(ax, LETTER_X, [-0.4] * len(LETTER_X), LETTER_NAMES, 3.8)

ax = card_axes(3, 2, [1046, 1513], [-46, 497])
fig.add_trace(go.Bar(x=AGE_X, y=POP_M, width=9.6, marker=dict(color="#4a7bb5", line=dict(width=0)), **ax))
fig.add_trace(go.Bar(x=AGE_X, y=POP_F, width=9.6, marker=dict(color="#e15759", line=dict(width=0)), **ax))
fig.add_trace(go.Bar(x=AGE_X, y=[min(a, b) for a, b in zip(POP_M, POP_F)], width=9.6, marker=dict(color="#555f5c", line=dict(width=0)), **ax))
lines(ax, [1046, 1513], [0, 0], "#222222", 0.8)
tiny(ax, AGE_TICK_X, [-25] * len(AGE_TICKS), AGE_TICKS, 4.2)

for col, values, colours in [(3, PIE_VALUES, PIE_COLORS), (4, ARC_VALUES, ARC_COLORS)]:
    mid_x, mid_y = CARD_X[col] + 143.5, CARD_Y[3] + 90.2
    fig.add_trace(go.Pie(values=values, sort=False, direction="clockwise", rotation=0, hole=0.75, textinfo="none",
                         marker=dict(colors=colours, line=dict(width=0)), hoverinfo="skip", showlegend=False,
                         domain=dict(x=[px_x(mid_x - 85), px_x(mid_x + 85)], y=[px_y(mid_y + 85), px_y(mid_y - 85)])))

# ROW 5
ax = card_axes(4, 0, [0, 861], [541, 0])
for land_x, land_y in [(AFRICA_X, AFRICA_Y), (ARABIA_X, ARABIA_Y), (ASIA_X, ASIA_Y), (EUROPE_X, EUROPE_Y), (IBERIA_X, IBERIA_Y),
                       (BRAZIL_X, BRAZIL_Y), (ARCTIC_X, ARCTIC_Y), (MADAGASCAR_X, MADAGASCAR_Y)]:
    poly(ax, land_x, land_y, "#000000")
lines(ax, list(433 + 430 * np.sin(t)), list(265 + 430 * np.cos(t)), "#444444", 0.7)

ax = card_axes(4, 1, [538, 1005], [559, 16])
grid_lines(ax, [], INDEX_GRID, 559, 990, 16, 559, "#e4e4e4", 0.8)
lines(ax, [559, 559], [16, 559], "#555555", 0.6)
lines(ax, [550, 990], [283, 283], "#777777", 1)
for series, colour in [(INDEX_ORANGE, "#f0973a"), (INDEX_BLUE, "#4c84b8"), (INDEX_GREEN, "#4f9e55"), (INDEX_PURPLE, "#a07fd0"), (INDEX_RED, "#c9474a")]:
    lines(ax, INDEX_X, series, colour, 1)
tiny(ax, [571 + 21.2 * i for i in range(20)], [543] * 20, INDEX_MONTHS, 3.4)

ax = card_axes(4, 2, [-143.8, 143.2], [-89.7, 90.8])
for ring, a0, a1, key in zip(SEQ_RING, SEQ_START, SEQ_END, SEQ_KEY):
    wedge(ax, a0, a1, SEQ_RADII[ring], SEQ_RADII[ring + 1], SEQ_COLORS[key])

ax = card_axes(4, 3, [18, 486], [559, 16])
dots(ax, CARS_X, CARS_Y, "#ffffff", 2.8, "#4682b4", 0.8)
tiny(ax, [45], [33], ["↑ Miles per gallon"], 3.6)
tiny(ax, [455], [525], ["Miles per Gallon →"], 3.6)

iris_values = [IRIS_SEPAL_LEN, IRIS_SEPAL_WID, IRIS_PETAL_LEN, IRIS_PETAL_WID]
for i, (row_top, row_bottom) in enumerate(SPLOM_ROW):
    for j, (col_left, col_right) in enumerate(SPLOM_COL):
        # panel cut off by the card edge, so the y range is cut with it
        top = max(row_top, 16)
        bottom = min(row_bottom, 559)
        low, high = SPLOM_RANGE[i]
        y_hi = high - (top - row_top) / (row_bottom - row_top) * (high - low)
        y_lo = low + (row_bottom - bottom) / (row_bottom - row_top) * (high - low)
        to_page = CARD_W / (994 - 527)
        to_page_y = CARD_H / (559 - 16)
        left = CARD_X[4] + (col_left - 527) * to_page
        right = CARD_X[4] + (col_right - 527) * to_page
        ax = new_axes(left, right, CARD_Y[4] + (top - 16) * to_page_y, CARD_Y[4] + (bottom - 16) * to_page_y,
                      list(SPLOM_RANGE[j]), [y_lo, y_hi], visible=True, showticklabels=False, ticks="", showline=True,
                      linecolor="#c8c8c8", linewidth=1, mirror=True, showgrid=True, gridcolor="#eeeeee", gridwidth=0.5)
        xname = "xaxis" + ax["xaxis"][1:]
        yname = "yaxis" + ax["yaxis"][1:]
        fig.layout[xname].dtick = SPLOM_DTICK[j]
        fig.layout[yname].dtick = SPLOM_DTICK[i]
        fig.add_trace(go.Scatter(x=iris_values[j], y=iris_values[i], mode="markers",
                                 marker=dict(color=IRIS_SPECIES, size=2.4, opacity=1), **ax))
        if i == j and i > 0:
            tiny(ax, [SPLOM_RANGE[j][0] + (SPLOM_RANGE[j][1] - SPLOM_RANGE[j][0]) * 0.16],
                 [y_hi - (y_hi - y_lo) * 0.07], [f"<b>{SPLOM_NAMES[i]}</b>"], 3.8, "#222222")

ax = card_axes(4, 5, [1035, 1503], [-39, 504])
fig.add_trace(go.Scatter(x=PAN_X, y=PAN_VALUES, mode="lines", fill="tozeroy", fillcolor="#4682b4",
                         line=dict(color="#4682b4", width=0), **ax))
lines(ax, [1035, 1503], [0, 0], "#1f4a70", 1.2)
tiny(ax, PAN_TICK_X, [-16] * len(PAN_TICKS), PAN_TICKS, 4.4)

fig.update_layout(
    width=W, height=H, margin=dict(l=0, r=0, t=0, b=0), autosize=False,
    paper_bgcolor="#ffffff", plot_bgcolor="rgba(0,0,0,0)", barmode="overlay", hovermode=False,
    showlegend=False, annotations=annotations, shapes=shapes,
)
fig.write_html("out.html", config=dict(displayModeBar=False), post_script="document.body.style.margin='0';")
